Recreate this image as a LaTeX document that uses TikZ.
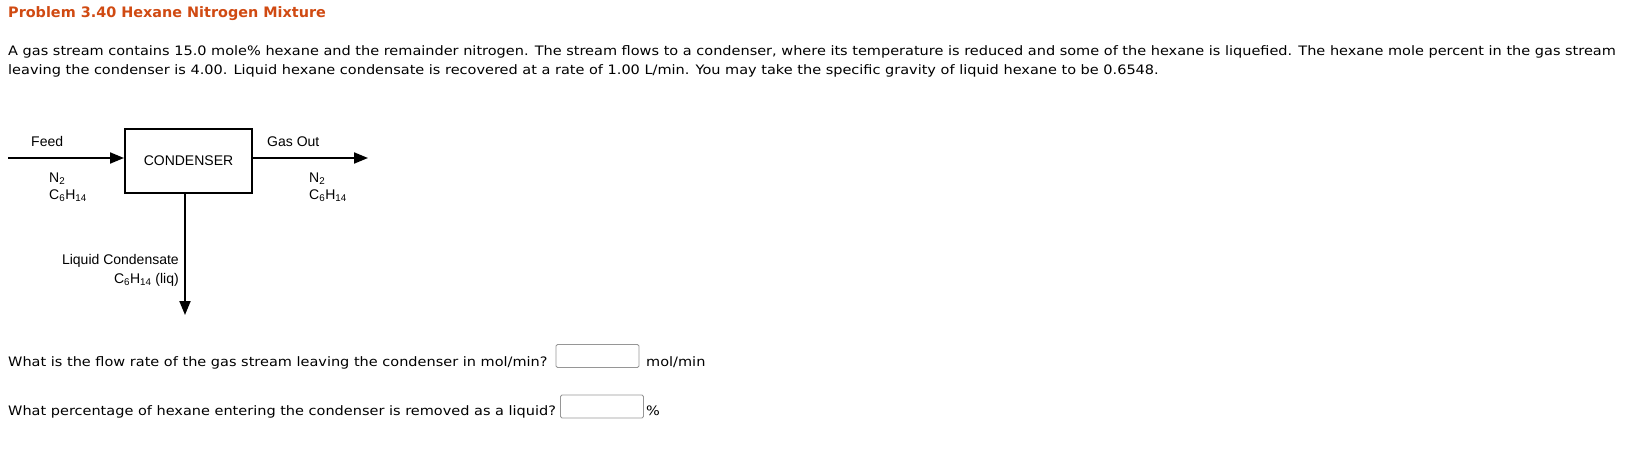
\documentclass[tikz,border=0pt]{standalone}
\usepackage{fontspec}
\setmainfont{DejaVu Sans}[FakeStretch=1.115]
\newfontfamily\titlefont{DejaVu Sans}
\newfontfamily\arialfont{Liberation Sans}
\usetikzlibrary{arrows.meta,positioning}
\definecolor{titleorange}{RGB}{208,74,18}
\definecolor{fieldgray}{RGB}{150,150,150}
\begin{document}
\begin{tikzpicture}[x=1pt,y=-1pt,
  flow/.style={line width=2pt,-{Triangle[length=14pt,width=11pt]}},
  unitbox/.style={draw,line width=2pt,minimum width=127pt,minimum height=64pt,inner sep=0pt},
  lbl/.style={font=\arialfont\fontsize{14}{17}\selectfont,inner sep=0pt},
  txt/.style={font=\fontsize{13}{15}\selectfont,inner sep=0pt,anchor=base west},
  field/.style={draw=fieldgray,line width=0.8pt,rounded corners=1.5pt,minimum width=83pt,minimum height=23pt,inner sep=0pt}]

\useasboundingbox (0,0) rectangle (1638,450);

\node[txt,font=\titlefont\bfseries\fontsize{14.4}{16}\selectfont,text=titleorange] (title) at (8,17) {Problem 3.40 Hexane Nitrogen Mixture};

\node[txt] (line1) at (8,55) {A gas stream contains 15.0 mole\% hexane and the remainder nitrogen. The stream flows to a condenser, where its temperature is reduced and some of the hexane is liquefied. The hexane mole percent in the gas stream};
\node[txt] (line2) at (8,74) {leaving the condenser is 4.00. Liquid hexane condensate is recovered at a rate of 1.00 L/min. You may take the specific gravity of liquid hexane to be 0.6548.};

\node[unitbox,lbl] (cond) at (188.5,160.5) {CONDENSER};

\coordinate (feedin) at (8,158);
\coordinate (gasout) at (368,158);
\coordinate (liqout) at (185,315);

\draw[flow] (feedin) -- (feedin -| cond.west);
\draw[flow] (gasout -| cond.east) -- (gasout);
\draw[flow] (liqout |- cond.south) -- (liqout);

\node[lbl,anchor=base west] (feedlbl) at (31,146) {Feed};
\node[lbl,anchor=base west] (gaslbl) at (267,146) {Gas Out};
\node[lbl,anchor=base west,align=left] (feedcomp) at (49,199) {N\textsubscript{2}\\C\textsubscript{6}H\textsubscript{14}};
\node[lbl,anchor=base west,align=left] (gascomp) at (309,199) {N\textsubscript{2}\\C\textsubscript{6}H\textsubscript{14}};
\node[lbl,anchor=base east,align=right] (liqlbl) at (179,283) {Liquid Condensate\\[2pt]C\textsubscript{6}H\textsubscript{14} (liq)};

\node[txt] (q1) at (8,366) {What is the flow rate of the gas stream leaving the condenser in mol/min?};
\node[field] (ans1) at (597.5,356) {};
\node[txt] (u1) at (646,366) {mol/min};

\node[txt] (q2) at (8,415) {What percentage of hexane entering the condenser is removed as a liquid?};
\node[field] (ans2) at (602,406.5) {};
\node[txt] (u2) at (646,415) {\%};

\end{tikzpicture}
\end{document}
